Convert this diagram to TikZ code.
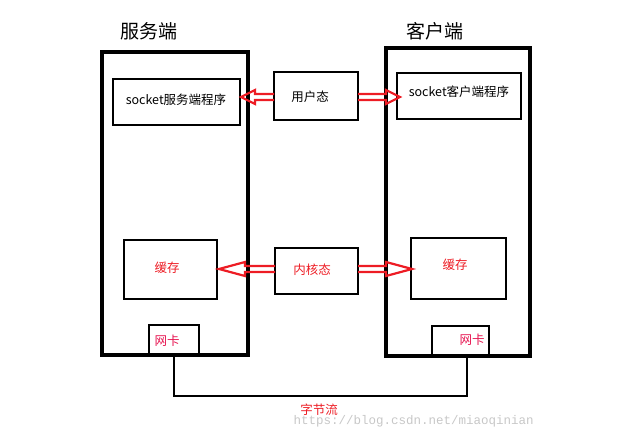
\documentclass[tikz,border=0pt]{standalone}
\usepackage{fontspec}
\setmainfont{Noto Sans CJK SC}
\newfontfamily\wm{Liberation Mono}
\definecolor{ared}{RGB}{237,28,36}
\definecolor{nred}{RGB}{230,20,80}
\begin{document}
\begin{tikzpicture}[x=1pt,y=-1pt,
  big/.style={draw,line width=4pt},
  box/.style={draw,line width=2.5pt},
  harr/.style={draw=ared,line width=2.2pt,line join=miter},
  lbl/.style={font=\fontsize{12.5}{14}\selectfont}]
\useasboundingbox (0,0) rectangle (624,439);
\node[font=\fontsize{19}{22}\selectfont] (ts) at (149,31) {服务端};
\node[font=\fontsize{19}{22}\selectfont] (tc) at (435,31) {客户端};
\draw[big] (102,52) rectangle (248,355);
\draw[big] (386,48) rectangle (530,356);
\draw[box] (113,79) rectangle (240,125);
\node[lbl] (sp) at (176,100) {socket服务端程序};
\draw[box] (397,73) rectangle (521,119);
\node[lbl] (cp) at (459,92) {socket客户端程序};
\draw[box] (274,72) rectangle (358,120);
\node[lbl] (us) at (310,97) {用户态};
\draw[box] (124,240) rectangle (217,299);
\node[lbl,text=ared] (sc) at (167,268) {缓存};
\draw[box] (411,238) rectangle (506,299);
\node[lbl,text=ared] (cc) at (455,265) {缓存};
\draw[box] (275,248) rectangle (358,294);
\node[lbl,text=ared] (ks) at (312,270) {内核态};
\draw[box] (149,325) rectangle (199,355);
\node[lbl,text=nred] (sn) at (167,341) {网卡};
\draw[box] (432,326) rectangle (489,355);
\node[lbl,text=nred] (cn) at (472,340) {网卡};
\draw[line width=2.5pt] (174,355) -- (174,396) -- (467,396) -- (467,355);
\node[lbl,text=ared] (bs) at (319,410) {字节流};
\node[text=black!22,font=\wm\fontsize{12.5}{14}\selectfont,anchor=west] (wmk) at (290,421) {https://blog.csdn.net/miaoqinian};
% hollow arrows
\draw[harr] (274,94) -- (255,94) -- (255,90) -- (241,97) -- (255,104) -- (255,100) -- (274,100);
\draw[harr] (358,94) -- (386,94) -- (386,90) -- (400,97) -- (386,104) -- (386,100) -- (358,100);
\draw[harr] (275,266) -- (245,266) -- (245,262) -- (219,269) -- (245,276) -- (245,272) -- (275,272);
\draw[harr] (358,266) -- (386,266) -- (386,262) -- (412,269) -- (386,276) -- (386,272) -- (358,272);
\end{tikzpicture}
\end{document}
